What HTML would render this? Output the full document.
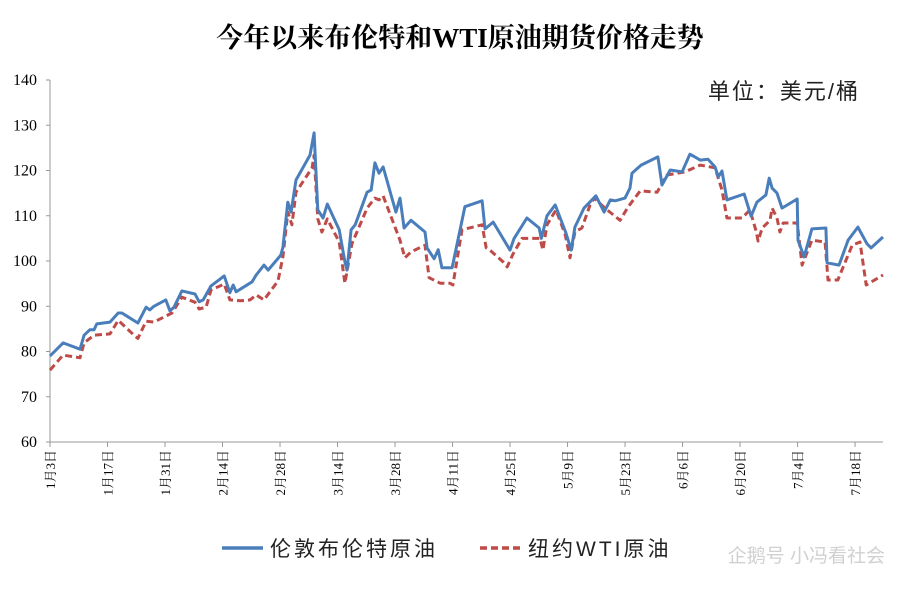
<!DOCTYPE html>
<html><head><meta charset="utf-8">
<style>
body{margin:0;background:#fff;width:903px;height:586px;overflow:hidden;font-family:"Liberation Serif","Noto Serif CJK SC",serif;}
</style></head>
<body>
<svg width="903" height="586" xmlns="http://www.w3.org/2000/svg" id="chart">
<text x="460" y="47" text-anchor="middle" font-size="27" font-weight="bold" font-family="'Liberation Serif','Noto Serif CJK SC',serif" fill="#000">今年以来布伦特和WTI原油期货价格走势</text>
<text x="860" y="99" text-anchor="end" font-size="22" letter-spacing="2" font-family="'Liberation Sans','Noto Sans CJK SC',sans-serif" fill="#222">单位：美元/桶</text>
<g id="yaxis"></g>
<g id="xaxis"></g>
<g id="series"></g>
<g>
<line x1="222" y1="548" x2="263" y2="548" stroke="#4a7ebb" stroke-width="3.5"/>
<text x="270" y="556" font-size="21" letter-spacing="3" font-family="'Liberation Sans','Noto Sans CJK SC',sans-serif" fill="#222">伦敦布伦特原油</text>
<line x1="480" y1="548" x2="521" y2="548" stroke="#be4b48" stroke-width="3.5" stroke-dasharray="7,4"/>
<text x="528" y="556" font-size="21" letter-spacing="3" font-family="'Liberation Sans','Noto Sans CJK SC',sans-serif" fill="#222">纽约WTI原油</text>
</g>
<text x="885" y="562" text-anchor="end" font-size="19" font-family="'Liberation Sans','Noto Sans CJK SC',sans-serif" fill="#ccc" opacity="0.9">企鹅号 小冯看社会</text>
</svg>
<script>
const brentDays=[0,3.2,7.3,8.3,9.7,10.7,11.4,14.6,16.6,17.5,21.4,23.4,24.3,25.3,28.2,29.2,30.2,32.1,35.3,36.3,37.3,39.2,42.4,43.8,44.6,45.3,49.2,50.2,52.1,53.1,56.2,56.7,57.9,58.7,59.9,63.3,64.3,65.2,66.5,67.5,70.4,71.8,72.3,73.3,74.3,77.2,78.2,79.1,80.1,81.1,84.2,85.2,86.2,87.9,91.3,91.8,93.5,94.5,95.4,97.9,101,105.2,105.9,107.9,112,113,116.1,119.1,119.6,121,123,125.6,126.9,127.8,130,132.9,134.9,136.4,137.6,140,141.2,141.7,143.9,148,149,151,153.9,155.8,156.8,158.3,160.2,161.9,162.7,163.6,164.8,169,170.7,172.1,174.3,175.1,175.8,177,178.2,181.9,182.1,183.6,185.5,188.9,189.2,192.1,194.3,196.7,198.9,199.9,202.8];
const brentValues=[79,81.9,80.5,83.6,84.8,84.8,86.1,86.5,88.5,88.5,86.3,89.8,89.2,90,91.4,89,89.8,93.4,92.7,91,91.4,94.5,96.7,93,94.7,93.2,95.4,96.9,99.1,98,101.3,103,113,110.8,117.9,123.4,128.3,111.3,109.5,112.6,106.9,99.8,98,106.9,108,115.2,115.7,121.7,119.4,120.8,110.8,113.9,107.3,109,106.4,102.9,100.5,102.5,98.5,98.5,112,113.3,107.1,108.6,102.4,105,109.5,107.3,105,110,112.4,106.2,102.4,107.5,111.7,114.4,110.8,113.5,113.3,113.9,116.1,119.4,121.2,123,116.8,120.1,119.7,123.6,123.1,122.3,122.5,120.8,118.6,119.9,113.5,114.8,109.9,113,114.6,118.3,116.1,115,111.7,113.7,104.6,100.9,107.1,107.3,99.6,99.1,104.6,107.5,103.8,102.9,105.3];
const wtiDays=[0,3.2,7.3,8.3,10.7,14.6,16.6,20.7,21.4,23.4,25.3,29.7,32.1,35.3,36.3,38,39.2,42.4,43.8,46.3,48.7,50.2,52.1,55.5,56.7,57.9,58.9,59.9,63.8,64.3,65.2,66.2,67.5,70.4,71.8,73.5,77.2,79.1,80.1,81.1,85.2,86.4,87.9,91.3,92.3,95,97.4,98.1,100.3,105.2,106.2,107.1,110.3,111.3,112.7,114.9,119.3,120,121,123.2,125.4,126.6,127.8,129.5,131.5,132.5,135.1,138.8,140.7,143.7,147.8,150.2,154.6,158.3,161.9,163.6,164.8,168.5,170.4,171.9,172.4,173.4,175.3,175.8,177,177.7,178.5,181.9,183.1,185.5,188.7,189.4,191.8,195.3,197.2,198.7,202.8];
const wtiValues=[75.9,79.2,78.6,81.9,83.6,83.9,86.9,83.4,82.9,86.7,86.5,88.5,92,90.9,89.4,89.8,93.6,94.9,91.4,91.2,91.4,92.5,91.4,95.6,100.9,110.8,108,115.2,120.6,123.4,109.3,106.4,109.3,104.2,95.1,103.8,111.7,113.9,113.5,114.4,104.6,100.7,102,103.5,96.3,95.1,95.1,94.7,106.9,108,102.9,102.4,99.8,98.7,101.5,105,105,102.4,108,111.3,105.9,100.7,106.4,107.3,112.4,113.9,111.7,109,111.9,115.5,115.2,119,119.7,121.2,120.6,115.7,109.5,109.5,111.3,106.6,104.4,107.3,109,111.7,109.5,106.4,108.4,108.4,99.1,104.6,104.2,95.8,95.8,103.5,104.2,94.7,96.9];
const yTicks=[60,70,80,90,100,110,120,130,140];
const xTickDays=[0,14,28,42,56,70,84,98,112,126,140,154,168,182,196];
const xTickLabels=["1月3日","1月17日","1月31日","2月14日","2月28日","3月14日","3月28日","4月11日","4月25日","5月9日","5月23日","6月6日","6月20日","7月4日","7月18日"];

const NS="http://www.w3.org/2000/svg";
const X0=50,X1=883,Y0=442,Y1=80,DMAX=202.8;
function xs(d){return X0+d*(X1-X0)/DMAX;}
function ys(v){return Y0-(v-60)*(Y0-Y1)/80;}
function mk(tag,attrs,parent){const e=document.createElementNS(NS,tag);for(const k in attrs)e.setAttribute(k,attrs[k]);parent.appendChild(e);return e;}
const ya=document.getElementById('yaxis'),xa=document.getElementById('xaxis'),sg=document.getElementById('series');
const yl=mk('line',{x1:X0,y1:Y1,x2:X0,y2:Y0,stroke:'#999','stroke-width':1},ya);


yTicks.forEach(v=>{
  const t=mk('text',{x:37,y:ys(v)+5,'text-anchor':'end','font-size':16,fill:'#000'},ya);
  t.textContent=v;
  
  
  const tk=mk('line',{x1:X0-4,y1:ys(v),x2:X0,y2:ys(v),stroke:'#999'},ya);
  
  
});
const xl=mk('line',{x1:X0,y1:Y0,x2:X1,y2:Y0,stroke:'#999','stroke-width':1},xa);


xTickDays.forEach((d,i)=>{
  const x=xs(d);
  const tk=mk('line',{x1:x,y1:Y0,x2:x,y2:Y0+5,stroke:'#999'},xa);
  
  
  const t=mk('text',{x:0,y:0,'text-anchor':'end','font-size':13,fill:'#000',transform:`translate(${x+5},${Y0+8}) rotate(-90)`},xa);
  t.textContent=xTickLabels[i];
  
  
});
function pts(ds,vs){return ds.map((d,i)=>xs(d).toFixed(1)+','+ys(vs[i]).toFixed(1)).join(' ');}
const w=mk('polyline',{points:pts(wtiDays,wtiValues),fill:'none',stroke:'#be4b48','stroke-width':3,'stroke-dasharray':'7,4','stroke-linejoin':'round'},sg);


const b=mk('polyline',{points:pts(brentDays,brentValues),fill:'none',stroke:'#4a7ebb','stroke-width':3,'stroke-linejoin':'round'},sg);


</script>
</body></html>
